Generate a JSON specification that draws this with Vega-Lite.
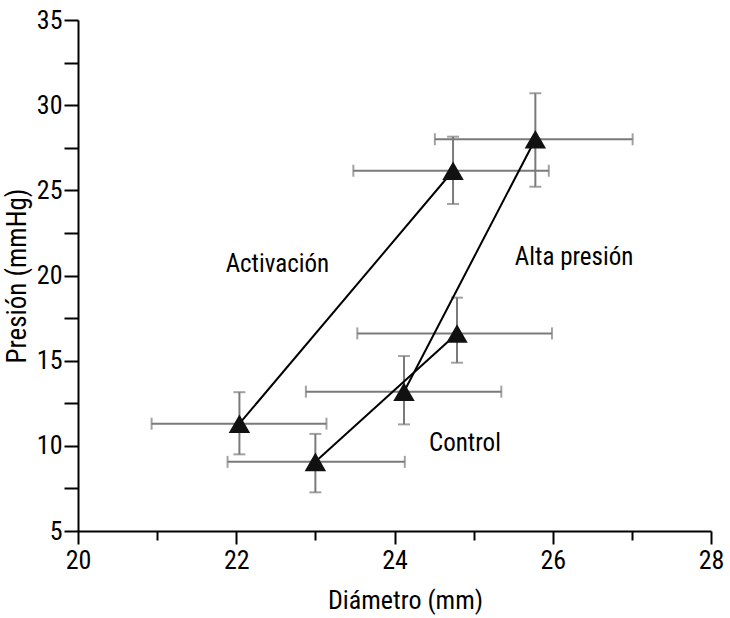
{
  "$schema": "https://vega.github.io/schema/vega-lite/v6.json",
  "width": 633,
  "height": 511,
  "autosize": "none",
  "padding": {"left": 78, "top": 20, "right": 19, "bottom": 87},
  "background": "white",
  "config": {
    "view": {"stroke": null},
    "font": "Roboto Condensed, DejaVu Sans Condensed, Roboto, sans-serif",
    "axis": {
      "domainColor": "black",
      "domainWidth": 2,
      "tickColor": "black",
      "tickWidth": 2,
      "grid": false,
      "labelFlush": false,
      "labelFont": "Roboto Condensed, DejaVu Sans Condensed, Roboto, sans-serif",
      "labelFontSize": 26,
      "labelColor": "black",
      "titleFont": "Roboto Condensed, DejaVu Sans Condensed, Roboto, sans-serif",
      "titleFontSize": 26,
      "titleFontWeight": "normal",
      "titleColor": "black"
    }
  },
  "datasets": {
    "points": [
      {"grupo": "Activación", "fase": 1, "diametro": 22.04, "presion": 11.3, "d_lo": 20.93, "d_hi": 23.14, "p_lo": 9.5, "p_hi": 13.15},
      {"grupo": "Activación", "fase": 2, "diametro": 24.74, "presion": 26.15, "d_lo": 23.48, "d_hi": 25.95, "p_lo": 24.2, "p_hi": 28.15},
      {"grupo": "Control", "fase": 1, "diametro": 23.0, "presion": 9.06, "d_lo": 21.89, "d_hi": 24.13, "p_lo": 7.27, "p_hi": 10.7},
      {"grupo": "Control", "fase": 2, "diametro": 24.79, "presion": 16.6, "d_lo": 23.53, "d_hi": 25.99, "p_lo": 14.88, "p_hi": 18.7},
      {"grupo": "Alta presión", "fase": 1, "diametro": 24.12, "presion": 13.18, "d_lo": 22.88, "d_hi": 25.35, "p_lo": 11.26, "p_hi": 15.27},
      {"grupo": "Alta presión", "fase": 2, "diametro": 25.78, "presion": 28.0, "d_lo": 24.51, "d_hi": 27.01, "p_lo": 25.21, "p_hi": 30.7}
    ],
    "labels": [
      {"texto": "Activación", "diametro": 22.52, "presion": 20.23},
      {"texto": "Alta presión", "diametro": 26.27, "presion": 20.62},
      {"texto": "Control", "diametro": 24.89, "presion": 9.71}
    ]
  },
  "layer": [
    {
      "data": {"name": "points"},
      "mark": {"type": "rule", "color": "#7a7a7a", "strokeWidth": 2},
      "encoding": {
        "x": {
          "field": "d_lo", "type": "quantitative",
          "scale": {"domain": [20, 28], "nice": false, "zero": false},
          "axis": {
            "title": "Diámetro (mm)",
            "values": [20, 21, 22, 23, 24, 25, 26, 27, 28],
            "format": "~g",
            "labelExpr": "datum.value % 2 == 0 ? datum.label : ''",
            "tickSize": {"condition": {"test": "datum.value % 2 == 0", "value": 13}, "value": 9},
            "labelPadding": 3,
            "titleX": 327,
            "titleY": 77,
            "titleAlign": "center",
            "titleBaseline": "alphabetic"
          }
        },
        "x2": {"field": "d_hi"},
        "y": {
          "field": "presion", "type": "quantitative",
          "scale": {"domain": [5, 35], "nice": false, "zero": false},
          "axis": {
            "title": "Presión (mmHg)",
            "titleFontSize": 27,
            "values": [5, 7.5, 10, 12.5, 15, 17.5, 20, 22.5, 25, 27.5, 30, 32.5, 35],
            "format": "~g",
            "labelExpr": "datum.value % 5 == 0 ? datum.label : ''",
            "tickSize": 14,
            "labelPadding": 2,
            "titleX": -53,
            "titleBaseline": "alphabetic"
          }
        }
      }
    },
    {
      "data": {"name": "points"},
      "mark": {"type": "rule", "color": "#7a7a7a", "strokeWidth": 2},
      "encoding": {
        "x": {"field": "diametro", "type": "quantitative"},
        "y": {"field": "p_lo", "type": "quantitative"},
        "y2": {"field": "p_hi"}
      }
    },
    {
      "data": {"name": "points"},
      "mark": {"type": "tick", "orient": "vertical", "color": "#7a7a7a", "size": 12, "thickness": 2},
      "encoding": {
        "x": {"field": "d_lo", "type": "quantitative"},
        "y": {"field": "presion", "type": "quantitative"}
      }
    },
    {
      "data": {"name": "points"},
      "mark": {"type": "tick", "orient": "vertical", "color": "#7a7a7a", "size": 12, "thickness": 2},
      "encoding": {
        "x": {"field": "d_hi", "type": "quantitative"},
        "y": {"field": "presion", "type": "quantitative"}
      }
    },
    {
      "data": {"name": "points"},
      "mark": {"type": "tick", "orient": "horizontal", "color": "#7a7a7a", "size": 12, "thickness": 2},
      "encoding": {
        "x": {"field": "diametro", "type": "quantitative"},
        "y": {"field": "p_lo", "type": "quantitative"}
      }
    },
    {
      "data": {"name": "points"},
      "mark": {"type": "tick", "orient": "horizontal", "color": "#7a7a7a", "size": 12, "thickness": 2},
      "encoding": {
        "x": {"field": "diametro", "type": "quantitative"},
        "y": {"field": "p_hi", "type": "quantitative"}
      }
    },
    {
      "data": {"name": "points"},
      "mark": {"type": "line", "color": "black", "strokeWidth": 2},
      "encoding": {
        "x": {"field": "diametro", "type": "quantitative"},
        "y": {"field": "presion", "type": "quantitative"},
        "detail": {"field": "grupo"},
        "order": {"field": "fase"}
      }
    },
    {
      "data": {"name": "points"},
      "mark": {"type": "point", "shape": "triangle-up", "filled": true, "color": "#111111", "opacity": 1, "size": 460},
      "encoding": {
        "x": {"field": "diametro", "type": "quantitative"},
        "y": {"field": "presion", "type": "quantitative"}
      }
    },
    {
      "data": {"name": "labels"},
      "mark": {"type": "text", "fontSize": 25, "color": "black", "align": "center", "baseline": "alphabetic"},
      "encoding": {
        "x": {"field": "diametro", "type": "quantitative"},
        "y": {"field": "presion", "type": "quantitative"},
        "text": {"field": "texto"}
      }
    }
  ]
}
